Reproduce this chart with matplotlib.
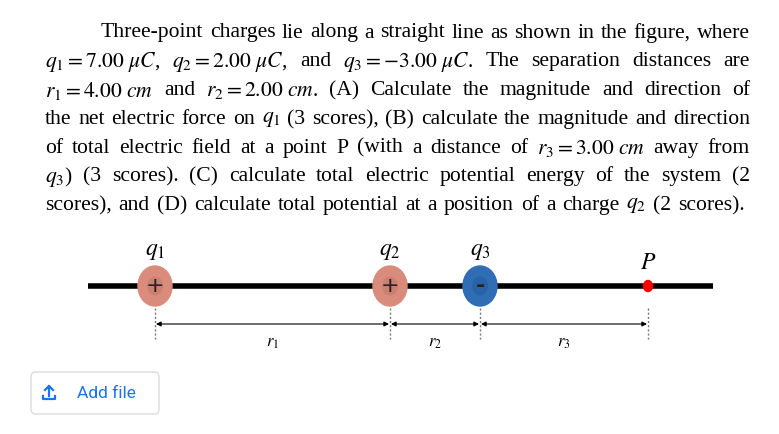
import matplotlib

matplotlib.use("Agg")
import matplotlib.pyplot as plt
from matplotlib.patches import Ellipse, FancyBboxPatch

plt.rcParams["mathtext.fontset"] = "stix"

TEXT_LINES = [
    "Three-point charges lie along a straight line as shown in the figure, where",
    r"$q_1 = 7.00\ \mu C$, $q_2 = 2.00\ \mu C$, and $q_3 = -3.00\ \mu C$. The separation distances are",
    r"$r_1 = 4.00\ cm$ and $r_2 = 2.00\ cm$. (A) Calculate the magnitude and direction of",
    r"the net electric force on $q_1$ (3 scores), (B) calculate the magnitude and direction",
    r"of total electric field at a point P (with a distance of $r_3 = 3.00\ cm$ away from",
    r"$q_3$) (3 scores). (C) calculate total electric potential energy of the system (2",
    r"scores), and (D) calculate total potential at a position of a charge $q_2$ (2 scores).",
]

CHARGE_NAMES = [r"$q_1$", r"$q_2$", r"$q_3$"]
CHARGE_SIGNS = ["+", "+", "-"]
CHARGE_X = [155, 390, 480]  # diagram is not to scale
POINT_X = 648
DIST_NAMES = [r"$r_1$", r"$r_2$", r"$r_3$"]

PINK, BLUE, BTN = "#D98C7C", "#2F6DB5", "#1A73E8"


def tokens(line):
    out, cur, inmath = [], "", False
    for ch in line:
        if ch == "$":
            inmath = not inmath
        if ch == " " and not inmath:
            if cur:
                out.append(cur)
            cur = ""
        else:
            cur += ch
    if cur:
        out.append(cur)
    return out


fig = plt.figure(figsize=(7.79, 4.35), dpi=100)
ax = fig.add_axes([0, 0, 1, 1])
ax.set_xlim(0, 779)
ax.set_ylim(435, 0)
ax.axis("off")

# paragraph, justified word by word
fig.canvas.draw()
r = fig.canvas.get_renderer()
fs = 15.6
for i, line in enumerate(TEXT_LINES):
    y = 33 + i * 28.8
    x0 = 101 if i == 0 else 45
    right = 745 if i == len(TEXT_LINES) - 1 else 750
    words = tokens(line)
    arts, widths = [], []
    for w in words:
        t = ax.text(0, y, w, fontsize=fs, family="Liberation Serif", va="center")
        widths.append(t.get_window_extent(r).width)
        arts.append(t)
    space = (right - x0 - sum(widths)) / max(len(words) - 1, 1)
    x = x0
    for t, w in zip(arts, widths):
        t.set_x(x)
        x += w + space

# axis line
ax.plot([88, 713], [287, 287], color="black", lw=4, solid_capstyle="butt", zorder=1)

# charges with a simple radial shading
for name, sign, cx in zip(CHARGE_NAMES, CHARGE_SIGNS, CHARGE_X):
    base = PINK if sign == "+" else BLUE
    ax.add_patch(Ellipse((cx, 287), 34, 40, color=base, zorder=2))
    dark = "#B86A5C" if sign == "+" else "#1F4F8C"
    ax.add_patch(Ellipse((cx, 287), 16, 19, color=dark, alpha=0.35, lw=0, zorder=3))
    ax.text(cx, 286, sign, fontsize=16, ha="center", va="center",
            color="#222222", zorder=4, fontweight="bold" if sign == "-" else "normal")
    ax.text(cx, 250, name, fontsize=17, ha="center", va="center")

ax.add_patch(Ellipse((POINT_X, 287), 9, 11, color="red", zorder=3))
ax.text(POINT_X, 262, r"$P$", fontsize=17, ha="center", va="center")

# dimension lines
marks = CHARGE_X + [POINT_X]
for mx in marks:
    ax.plot([mx, mx], [309, 340], color="#777777", lw=1, ls=(0, (1.5, 1.5)))
for a, b, name in zip(marks[:-1], marks[1:], DIST_NAMES):
    ax.annotate("", (b - 1, 325), (a + 1, 325),
                arrowprops=dict(arrowstyle="<|-|>", color="black", lw=0.8,
                                mutation_scale=7, shrinkA=0, shrinkB=0))
    ax.text((a + b) / 2, 342, name, fontsize=12, ha="center", va="center")

# Add file button
ax.add_patch(FancyBboxPatch((31, 373), 128, 42, boxstyle="round,pad=0,rounding_size=5",
                            fc="white", ec="#DADCE0", lw=1))
ax.plot([49, 49], [387, 397], color=BTN, lw=1.6)
ax.plot([45, 49, 53], [391, 387, 391], color=BTN, lw=1.6)
ax.plot([43, 43, 55, 55], [397, 400, 400, 397], color=BTN, lw=1.6)
ax.text(77, 394, "Add file", fontsize=12.5, family="Roboto", color=BTN, va="center")

fig.savefig("out.png", dpi=100, facecolor="white")
